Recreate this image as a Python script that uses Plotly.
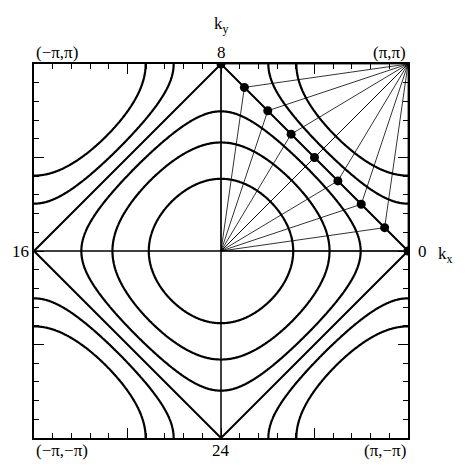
import numpy as np
import plotly.graph_objects as go

levels = [-0.7, -0.3, 0.3, 0.75, 1.35]
n_points = 8  # points along diamond edge from (0,pi) to (pi,0)
edge_labels = ["8", "0", "16", "24"]
corner_labels = ["(−π,π)", "(π,π)", "(−π,−π)", "(π,−π)"]

pi = np.pi
k = np.linspace(-pi, pi, 401)
KX, KY = np.meshgrid(k, k)
E = np.cos(KX) + np.cos(KY)

fig = go.Figure()
for lv in levels:
    fig.add_trace(go.Contour(x=k, y=k, z=E, contours=dict(start=lv, end=lv, size=1, coloring="lines"),
                             colorscale=[[0, "black"], [1, "black"]], line=dict(width=2.2),
                             showscale=False, hoverinfo="skip"))

thin = dict(color="black", width=0.8)
thick = dict(color="black", width=2)
fig.add_trace(go.Scatter(x=[0, pi, 0, -pi, 0], y=[pi, 0, -pi, 0, pi], mode="lines", line=thick))
fig.add_trace(go.Scatter(x=[-pi, pi], y=[0, 0], mode="lines", line=dict(color="black", width=1.5)))
fig.add_trace(go.Scatter(x=[0, 0], y=[-pi, pi], mode="lines", line=dict(color="black", width=1.5)))
px = [pi * i / n_points for i in range(n_points + 1)]
py = [pi - x for x in px]
for x, y in zip(px, py):
    fig.add_trace(go.Scatter(x=[0, x, pi], y=[0, y, pi], mode="lines", line=thin))
fig.add_trace(go.Scatter(x=[0, pi], y=[0, pi], mode="lines", line=thin))
fig.add_trace(go.Scatter(x=px, y=py, mode="markers", marker=dict(color="black", size=9)))

ax = dict(range=[-pi, pi], showgrid=False, zeroline=False, showline=True, mirror="ticks", linecolor="black",
          linewidth=2, ticks="inside", tickvals=[-pi/2, 0, pi/2], ticklen=10, tickcolor="black",
          showticklabels=False, minor=dict(dtick=pi/10, tick0=0, ticks="inside", ticklen=5, tickcolor="black"))
fig.update_layout(width=466, height=459, margin=dict(l=26, r=66, t=56, b=29), plot_bgcolor="white",
                  paper_bgcolor="white", xaxis=ax, yaxis=ax, showlegend=False,
                  font=dict(family="Liberation Serif", size=17, color="black"))
P = dict(xref="paper", yref="paper", showarrow=False)
annotations = [
    dict(P, x=0.5, y=1, text=edge_labels[0], yanchor="bottom", yshift=0),
    dict(P, x=1, y=0.5, text=edge_labels[1], xanchor="left", xshift=8),
    dict(P, x=0, y=0.5, text=edge_labels[2], xanchor="center", xshift=-14),
    dict(P, x=0.5, y=0, text=edge_labels[3], yanchor="top", yshift=-1),
    dict(P, x=0, y=1, text=corner_labels[0], yanchor="bottom", yshift=0),
    dict(P, x=1, y=1, text=corner_labels[1], yanchor="bottom", yshift=0),
    dict(P, x=0, y=0, text=corner_labels[2], yanchor="top", yshift=-1),
    dict(P, x=1, y=0, text=corner_labels[3], yanchor="top", yshift=-1),
    dict(P, x=0.5, y=1, text="k<sub>y</sub>", yanchor="bottom", yshift=26),
    dict(P, x=1, y=0.5, text="k<sub>x</sub>", xanchor="left", xshift=28, yshift=-4),
]
fig.update_layout(annotations=annotations)
fig.write_html("out.html")
